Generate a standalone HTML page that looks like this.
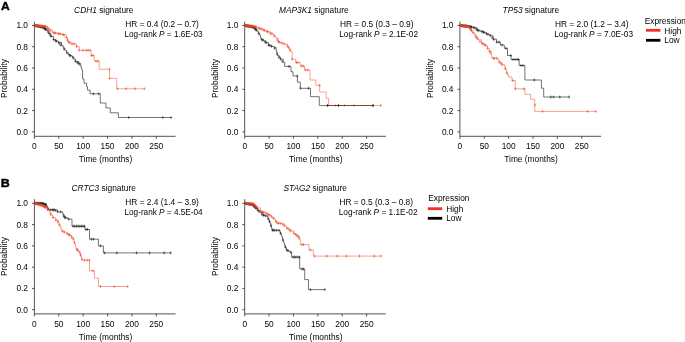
<!DOCTYPE html>
<html><head><meta charset="utf-8"><title>Figure</title>
<style>html,body{margin:0;padding:0;background:#fff}svg{display:block}</style></head>
<body>
<svg width="685" height="342" viewBox="0 0 685 342" font-family="'Liberation Sans', Arial, sans-serif" font-size="8.35" fill="#050505">
<rect width="685" height="342" fill="#fff"/>
<text transform="translate(0.9 9.7) scale(1.04 1)" font-size="11.6" font-weight="bold" fill="#000" stroke="#000" stroke-width="0.4">A</text>
<text transform="translate(0.7 186.6) scale(1.08 1)" font-size="11.6" font-weight="bold" fill="#000" stroke="#000" stroke-width="0.4">B</text>
<path d="M34.40 21.60V136.30H175.60M34.40 25.45h-2.4M34.40 46.73h-2.4M34.40 68.01h-2.4M34.40 89.29h-2.4M34.40 110.57h-2.4M34.40 131.85h-2.4M34.40 136.30v2.5M58.78 136.30v2.5M83.16 136.30v2.5M107.54 136.30v2.5M131.92 136.30v2.5M156.30 136.30v2.5" stroke="#2e2726" stroke-width="0.8" fill="none"/>
<text x="28.00" y="28.45" text-anchor="end">1.0</text>
<text x="28.00" y="49.73" text-anchor="end">0.8</text>
<text x="28.00" y="71.01" text-anchor="end">0.6</text>
<text x="28.00" y="92.29" text-anchor="end">0.4</text>
<text x="28.00" y="113.57" text-anchor="end">0.2</text>
<text x="28.00" y="134.85" text-anchor="end">0.0</text>
<text x="34.40" y="149.10" text-anchor="middle">0</text>
<text x="58.78" y="149.10" text-anchor="middle">50</text>
<text x="83.16" y="149.10" text-anchor="middle">100</text>
<text x="107.54" y="149.10" text-anchor="middle">150</text>
<text x="131.92" y="149.10" text-anchor="middle">200</text>
<text x="156.30" y="149.10" text-anchor="middle">250</text>
<text x="105.50" y="161.70" text-anchor="middle">Time (months)</text>
<text transform="translate(7.20 78.60) rotate(-90)" text-anchor="middle">Probability</text>
<text x="103.80" y="12.70" text-anchor="middle"><tspan font-style="italic">CDH1</tspan> signature</text>
<text x="125.30" y="27.30">HR = 0.4 (0.2 – 0.7)</text>
<text x="124.50" y="37.00" font-size="8.2">Log-rank <tspan font-style="italic">P</tspan> = 1.6E-03</text>
<path d="M34.40 25.40H36.55V25.85H38.70V26.30H40.85V26.75H43.00V27.20H45.00V28.85H47.00V30.50H49.00V33.45H51.00V36.40H53.70V39.70H56.00V41.05H58.30V42.40H61.60V45.70H63.25V48.00H64.90V50.30H66.55V52.40H68.20V54.50H70.15V55.65H72.10V56.80H73.75V59.10H75.40V61.40H78.70V63.40H80.50V65.70H81.20V68.13H81.90V70.57H82.60V73.00H82.60V79.00H84.00V83.20H86.60V86.80H87.50V90.10H90.10V93.80H100.30V103.00H105.90V107.90H110.30V112.80H118.40V117.50H171.10" stroke="#1a1718" stroke-width="0.6" fill="none" stroke-linejoin="miter"/>
<path d="M35.00 24.03v3.00M33.95 25.53h2.10M35.55 24.14v3.00M34.50 25.64h2.10M36.10 24.26v3.00M35.05 25.76h2.10M36.65 24.37v3.00M35.60 25.87h2.10M37.20 24.49v3.00M36.15 25.99h2.10M37.75 24.60v3.00M36.70 26.10h2.10M38.30 24.72v3.00M37.25 26.22h2.10M38.85 24.83v3.00M37.80 26.33h2.10M39.40 24.95v3.00M38.35 26.45h2.10M39.95 25.06v3.00M38.90 26.56h2.10M40.50 25.18v3.00M39.45 26.68h2.10M41.05 25.29v3.00M40.00 26.79h2.10M41.60 25.41v3.00M40.55 26.91h2.10M42.15 25.52v3.00M41.10 27.02h2.10M42.70 25.64v3.00M41.65 27.14h2.10M43.25 25.91v3.00M42.20 27.41h2.10M43.80 26.36v3.00M42.75 27.86h2.10M44.35 26.81v3.00M43.30 28.31h2.10M44.90 27.27v3.00M43.85 28.77h2.10M45.45 27.72v3.00M44.40 29.22h2.10M46.00 28.18v3.00M44.95 29.68h2.10M47.90 30.33v3.00M46.85 31.83h2.10M48.90 31.80v3.00M47.85 33.30h2.10M50.10 33.57v3.00M49.05 35.07h2.10M51.10 35.02v3.00M50.05 36.52h2.10M53.50 37.96v3.00M52.45 39.46h2.10M55.40 39.20v3.00M54.35 40.70h2.10M56.40 39.78v3.00M55.35 41.28h2.10M58.80 41.40v3.00M57.75 42.90h2.10M59.80 42.40v3.00M58.75 43.90h2.10M61.00 43.60v3.00M59.95 45.10h2.10M64.00 47.55v3.00M62.95 49.05h2.10M67.00 51.47v3.00M65.95 52.97h2.10M69.40 53.71v3.00M68.35 55.21h2.10M70.40 54.30v3.00M69.35 55.80h2.10M72.80 56.28v3.00M71.75 57.78h2.10M75.20 59.62v3.00M74.15 61.12h2.10M77.10 60.93v3.00M76.05 62.43h2.10M78.10 61.54v3.00M77.05 63.04h2.10M79.30 62.67v3.00M78.25 64.17h2.10M93.40 92.30v3.00M92.35 93.80h2.10M98.70 92.30v3.00M97.65 93.80h2.10M128.70 116.00v3.00M127.65 117.50h2.10M162.80 116.00v3.00M161.75 117.50h2.10M171.10 116.00v3.00M170.05 117.50h2.10" stroke="#1a1718" stroke-width="0.5" fill="none"/>
<path d="M34.40 25.40H36.68V25.64H38.96V25.88H41.24V26.12H43.52V26.36H45.80V26.60H47.75V28.25H49.70V29.90H52.40V32.50H55.02V33.00H57.65V33.50H60.27V34.00H62.90V34.50H66.20V37.10H67.20V39.40H68.20V41.70H70.80V43.90H76.60V46.60H79.20V50.30H91.10V55.50H94.10V61.10H99.20V69.20H109.50V78.40H116.80V88.80H144.40" stroke="#ef4423" stroke-width="0.5" fill="none" stroke-linejoin="miter"/>
<path d="M35.00 23.96v3.00M33.95 25.46h2.10M35.55 24.02v3.00M34.50 25.52h2.10M36.10 24.08v3.00M35.05 25.58h2.10M36.65 24.14v3.00M35.60 25.64h2.10M37.20 24.19v3.00M36.15 25.69h2.10M37.75 24.25v3.00M36.70 25.75h2.10M38.30 24.31v3.00M37.25 25.81h2.10M38.85 24.37v3.00M37.80 25.87h2.10M39.40 24.43v3.00M38.35 25.93h2.10M39.95 24.48v3.00M38.90 25.98h2.10M40.50 24.54v3.00M39.45 26.04h2.10M41.05 24.60v3.00M40.00 26.10h2.10M41.60 24.66v3.00M40.55 26.16h2.10M42.15 24.72v3.00M41.10 26.22h2.10M42.70 24.77v3.00M41.65 26.27h2.10M43.25 24.83v3.00M42.20 26.33h2.10M43.80 24.89v3.00M42.75 26.39h2.10M44.35 24.95v3.00M43.30 26.45h2.10M44.90 25.01v3.00M43.85 26.51h2.10M45.45 25.06v3.00M44.40 26.56h2.10M46.00 25.27v3.00M44.95 26.77h2.10M47.50 26.54v3.00M46.45 28.04h2.10M48.70 27.55v3.00M47.65 29.05h2.10M50.60 29.27v3.00M49.55 30.77h2.10M53.60 31.23v3.00M52.55 32.73h2.10M54.60 31.42v3.00M53.55 32.92h2.10M55.60 31.61v3.00M54.55 33.11h2.10M58.00 32.07v3.00M56.95 33.57h2.10M59.00 32.26v3.00M57.95 33.76h2.10M60.50 32.54v3.00M59.45 34.04h2.10M62.90 33.00v3.00M61.85 34.50h2.10M63.90 33.79v3.00M62.85 35.29h2.10M66.30 35.83v3.00M65.25 37.33h2.10M67.50 38.59v3.00M66.45 40.09h2.10M68.50 40.45v3.00M67.45 41.95h2.10M69.50 41.30v3.00M68.45 42.80h2.10M72.00 42.40v3.00M70.95 43.90h2.10M74.00 42.40v3.00M72.95 43.90h2.10M76.60 45.10v3.00M75.55 46.60h2.10M79.20 48.80v3.00M78.15 50.30h2.10M83.00 48.80v3.00M81.95 50.30h2.10M86.00 48.80v3.00M84.95 50.30h2.10M88.00 48.80v3.00M86.95 50.30h2.10M90.00 48.80v3.00M88.95 50.30h2.10M91.50 54.00v3.00M90.45 55.50h2.10M93.00 54.00v3.00M91.95 55.50h2.10M96.00 59.60v3.00M94.95 61.10h2.10M98.00 59.60v3.00M96.95 61.10h2.10M109.40 67.70v3.00M108.35 69.20h2.10M109.55 76.90v3.00M108.50 78.40h2.10M117.40 87.30v3.00M116.35 88.80h2.10M126.00 87.30v3.00M124.95 88.80h2.10M135.00 87.30v3.00M133.95 88.80h2.10M144.40 87.30v3.00M143.35 88.80h2.10" stroke="#ef4423" stroke-width="0.5" fill="none"/>
<path d="M244.70 21.60V136.30H385.90M244.70 25.45h-2.4M244.70 46.73h-2.4M244.70 68.01h-2.4M244.70 89.29h-2.4M244.70 110.57h-2.4M244.70 131.85h-2.4M244.70 136.30v2.5M269.08 136.30v2.5M293.46 136.30v2.5M317.84 136.30v2.5M342.22 136.30v2.5M366.60 136.30v2.5" stroke="#2e2726" stroke-width="0.8" fill="none"/>
<text x="238.30" y="28.45" text-anchor="end">1.0</text>
<text x="238.30" y="49.73" text-anchor="end">0.8</text>
<text x="238.30" y="71.01" text-anchor="end">0.6</text>
<text x="238.30" y="92.29" text-anchor="end">0.4</text>
<text x="238.30" y="113.57" text-anchor="end">0.2</text>
<text x="238.30" y="134.85" text-anchor="end">0.0</text>
<text x="244.70" y="149.10" text-anchor="middle">0</text>
<text x="269.08" y="149.10" text-anchor="middle">50</text>
<text x="293.46" y="149.10" text-anchor="middle">100</text>
<text x="317.84" y="149.10" text-anchor="middle">150</text>
<text x="342.22" y="149.10" text-anchor="middle">200</text>
<text x="366.60" y="149.10" text-anchor="middle">250</text>
<text x="315.80" y="161.70" text-anchor="middle">Time (months)</text>
<text transform="translate(217.50 78.60) rotate(-90)" text-anchor="middle">Probability</text>
<text x="313.80" y="12.70" text-anchor="middle"><tspan font-style="italic">MAP3K1</tspan> signature</text>
<text x="340.00" y="27.30">HR = 0.5 (0.3 – 0.9)</text>
<text x="339.20" y="37.00" font-size="8.28">Log-rank <tspan font-style="italic">P</tspan> = 2.1E-02</text>
<path d="M244.70 25.40H246.97V25.85H249.25V26.30H251.53V26.75H253.80V27.20H255.45V29.20H257.10V31.20H258.40V33.15H259.70V35.10H260.35V37.10H261.00V39.10H263.35V40.75H265.70V42.40H268.30V45.00H271.25V46.30H274.20V47.60H276.20V50.90H276.80V53.15H277.40V55.40H278.95V57.30H280.50V59.20H283.20V62.50H284.70V66.40H291.00V71.70H293.00V76.00H297.40V82.10H300.30V88.30H310.50V96.70H319.30V105.50H373.00" stroke="#1a1718" stroke-width="0.6" fill="none" stroke-linejoin="miter"/>
<path d="M245.30 24.02v3.00M244.25 25.52h2.10M245.85 24.13v3.00M244.80 25.63h2.10M246.40 24.24v3.00M245.35 25.74h2.10M246.95 24.35v3.00M245.90 25.85h2.10M247.50 24.45v3.00M246.45 25.95h2.10M248.05 24.56v3.00M247.00 26.06h2.10M248.60 24.67v3.00M247.55 26.17h2.10M249.15 24.78v3.00M248.10 26.28h2.10M249.70 24.89v3.00M248.65 26.39h2.10M250.25 25.00v3.00M249.20 26.50h2.10M250.80 25.11v3.00M249.75 26.61h2.10M251.35 25.22v3.00M250.30 26.72h2.10M251.90 25.32v3.00M250.85 26.82h2.10M252.45 25.43v3.00M251.40 26.93h2.10M253.00 25.54v3.00M251.95 27.04h2.10M253.55 25.65v3.00M252.50 27.15h2.10M254.10 26.06v3.00M253.05 27.56h2.10M254.65 26.73v3.00M253.60 28.23h2.10M255.20 27.40v3.00M254.15 28.90h2.10M255.75 28.06v3.00M254.70 29.56h2.10M256.30 28.73v3.00M255.25 30.23h2.10M258.70 32.10v3.00M257.65 33.60h2.10M261.70 38.09v3.00M260.65 39.59h2.10M262.70 38.79v3.00M261.65 40.29h2.10M265.10 40.48v3.00M264.05 41.98h2.10M266.10 41.30v3.00M265.05 42.80h2.10M268.50 43.59v3.00M267.45 45.09h2.10M269.70 44.12v3.00M268.65 45.62h2.10M271.60 44.95v3.00M270.55 46.45h2.10M274.60 46.76v3.00M273.55 48.26h2.10M277.00 52.40v3.00M275.95 53.90h2.10M278.90 55.74v3.00M277.85 57.24h2.10M280.40 57.58v3.00M279.35 59.08h2.10M282.30 59.90v3.00M281.25 61.40h2.10M289.00 64.90v3.00M287.95 66.40h2.10M297.30 74.50v3.00M296.25 76.00h2.10M300.40 86.80v3.00M299.35 88.30h2.10M308.50 86.80v3.00M307.45 88.30h2.10M327.60 104.00v3.00M326.55 105.50h2.10M338.50 104.00v3.00M337.45 105.50h2.10M373.00 104.00v3.00M371.95 105.50h2.10" stroke="#1a1718" stroke-width="0.5" fill="none"/>
<path d="M244.70 25.40H247.15V25.70H249.60V26.00H252.05V26.30H254.50V26.60H256.67V27.40H258.83V28.20H261.00V29.00H263.20V29.93H265.40V30.87H267.60V31.80H270.25V33.15H272.90V34.50H274.55V36.45H276.20V38.40H278.20V41.70H280.15V42.55H282.10V43.40H284.05V43.85H286.00V44.30H287.65V46.60H289.30V48.90H290.70V51.45H292.10V54.00H292.10V59.20H295.70V62.50H300.30V66.00H304.50V70.00H310.00V80.00H315.90V85.30H319.70V92.00H326.20V98.40H328.60V105.50H380.80" stroke="#ef4423" stroke-width="0.5" fill="none" stroke-linejoin="miter"/>
<path d="M245.30 23.97v3.00M244.25 25.47h2.10M245.85 24.04v3.00M244.80 25.54h2.10M246.40 24.11v3.00M245.35 25.61h2.10M246.95 24.18v3.00M245.90 25.68h2.10M247.50 24.24v3.00M246.45 25.74h2.10M248.05 24.31v3.00M247.00 25.81h2.10M248.60 24.38v3.00M247.55 25.88h2.10M249.15 24.44v3.00M248.10 25.94h2.10M249.70 24.51v3.00M248.65 26.01h2.10M250.25 24.58v3.00M249.20 26.08h2.10M250.80 24.65v3.00M249.75 26.15h2.10M251.35 24.71v3.00M250.30 26.21h2.10M251.90 24.78v3.00M250.85 26.28h2.10M252.45 24.85v3.00M251.40 26.35h2.10M253.00 24.92v3.00M251.95 26.42h2.10M253.55 24.98v3.00M252.50 26.48h2.10M254.10 25.05v3.00M253.05 26.55h2.10M254.65 25.16v3.00M253.60 26.66h2.10M255.20 25.36v3.00M254.15 26.86h2.10M255.75 25.56v3.00M254.70 27.06h2.10M256.30 25.76v3.00M255.25 27.26h2.10M258.70 26.65v3.00M257.65 28.15h2.10M259.90 27.09v3.00M258.85 28.59h2.10M261.40 27.67v3.00M260.35 29.17h2.10M263.30 28.48v3.00M262.25 29.98h2.10M264.50 28.98v3.00M263.45 30.48h2.10M266.90 30.00v3.00M265.85 31.50h2.10M267.90 30.45v3.00M266.85 31.95h2.10M270.30 31.68v3.00M269.25 33.18h2.10M271.80 32.44v3.00M270.75 33.94h2.10M274.20 34.54v3.00M273.15 36.04h2.10M277.20 38.55v3.00M276.15 40.05h2.10M278.40 40.29v3.00M277.35 41.79h2.10M279.40 40.72v3.00M278.35 42.22h2.10M281.80 41.77v3.00M280.75 43.27h2.10M284.20 42.38v3.00M283.15 43.88h2.10M287.20 44.47v3.00M286.15 45.97h2.10M288.40 46.15v3.00M287.35 47.65h2.10M289.90 48.49v3.00M288.85 49.99h2.10M292.10 57.70v3.00M291.05 59.20h2.10M296.50 61.00v3.00M295.45 62.50h2.10M298.00 61.00v3.00M296.95 62.50h2.10M301.50 64.50v3.00M300.45 66.00h2.10M303.20 64.50v3.00M302.15 66.00h2.10M305.60 68.50v3.00M304.55 70.00h2.10M307.80 68.50v3.00M306.75 70.00h2.10M319.60 83.80v3.00M318.55 85.30h2.10M335.60 104.00v3.00M334.55 105.50h2.10M344.60 104.00v3.00M343.55 105.50h2.10M353.90 104.00v3.00M352.85 105.50h2.10M380.80 104.00v3.00M379.75 105.50h2.10" stroke="#ef4423" stroke-width="0.5" fill="none"/>
<path d="M328.6 105.5H373" stroke="#1a1718" stroke-width="0.5" fill="none" opacity="0.7"/>
<path d="M327.6 104v3M338.5 104v3M373 104v3M372 105.5h2" stroke="#1a1718" stroke-width="0.5" fill="none"/>
<path d="M459.90 21.60V136.30H601.10M459.90 25.45h-2.4M459.90 46.73h-2.4M459.90 68.01h-2.4M459.90 89.29h-2.4M459.90 110.57h-2.4M459.90 131.85h-2.4M459.90 136.30v2.5M484.28 136.30v2.5M508.66 136.30v2.5M533.04 136.30v2.5M557.42 136.30v2.5M581.80 136.30v2.5" stroke="#2e2726" stroke-width="0.8" fill="none"/>
<text x="453.50" y="28.45" text-anchor="end">1.0</text>
<text x="453.50" y="49.73" text-anchor="end">0.8</text>
<text x="453.50" y="71.01" text-anchor="end">0.6</text>
<text x="453.50" y="92.29" text-anchor="end">0.4</text>
<text x="453.50" y="113.57" text-anchor="end">0.2</text>
<text x="453.50" y="134.85" text-anchor="end">0.0</text>
<text x="459.90" y="149.10" text-anchor="middle">0</text>
<text x="484.28" y="149.10" text-anchor="middle">50</text>
<text x="508.66" y="149.10" text-anchor="middle">100</text>
<text x="533.04" y="149.10" text-anchor="middle">150</text>
<text x="557.42" y="149.10" text-anchor="middle">200</text>
<text x="581.80" y="149.10" text-anchor="middle">250</text>
<text x="531.00" y="161.70" text-anchor="middle">Time (months)</text>
<text transform="translate(432.70 78.60) rotate(-90)" text-anchor="middle">Probability</text>
<text x="530.90" y="12.70" text-anchor="middle"><tspan font-style="italic">TP53</tspan> signature</text>
<text x="555.00" y="27.30">HR = 2.0 (1.2 – 3.4)</text>
<text x="554.20" y="37.00" font-size="8.28">Log-rank <tspan font-style="italic">P</tspan> = 7.0E-03</text>
<path d="M459.90 25.40H462.30V25.70H464.70V26.00H467.10V26.30H469.50V26.60H472.10V27.25H474.70V27.90H477.40V30.30H480.00V31.05H482.60V31.80H484.60V32.80H486.60V33.80H488.55V34.80H490.50V35.80H493.20V39.10H496.40V42.10H500.40V45.00H504.30V48.30H507.50V55.50H511.00V59.50H519.20V65.50H524.90V80.00H541.40V88.20H543.70V97.00H569.20" stroke="#1a1718" stroke-width="0.6" fill="none" stroke-linejoin="miter"/>
<path d="M460.50 23.98v3.00M459.45 25.48h2.10M461.05 24.04v3.00M460.00 25.54h2.10M461.60 24.11v3.00M460.55 25.61h2.10M462.15 24.18v3.00M461.10 25.68h2.10M462.70 24.25v3.00M461.65 25.75h2.10M463.25 24.32v3.00M462.20 25.82h2.10M463.80 24.39v3.00M462.75 25.89h2.10M464.35 24.46v3.00M463.30 25.96h2.10M464.90 24.52v3.00M463.85 26.02h2.10M465.45 24.59v3.00M464.40 26.09h2.10M466.00 24.66v3.00M464.95 26.16h2.10M466.55 24.73v3.00M465.50 26.23h2.10M467.10 24.80v3.00M466.05 26.30h2.10M467.65 24.87v3.00M466.60 26.37h2.10M468.20 24.94v3.00M467.15 26.44h2.10M468.75 25.01v3.00M467.70 26.51h2.10M469.30 25.08v3.00M468.25 26.58h2.10M469.85 25.19v3.00M468.80 26.69h2.10M470.40 25.32v3.00M469.35 26.82h2.10M470.95 25.46v3.00M469.90 26.96h2.10M471.50 25.60v3.00M470.45 27.10h2.10M473.40 26.07v3.00M472.35 27.57h2.10M474.90 26.58v3.00M473.85 28.08h2.10M476.40 27.91v3.00M475.35 29.41h2.10M477.60 28.86v3.00M476.55 30.36h2.10M478.80 29.20v3.00M477.75 30.70h2.10M481.80 30.07v3.00M480.75 31.57h2.10M483.00 30.50v3.00M481.95 32.00h2.10M484.00 31.00v3.00M482.95 32.50h2.10M486.40 32.20v3.00M485.35 33.70h2.10M487.90 32.97v3.00M486.85 34.47h2.10M490.30 34.20v3.00M489.25 35.70h2.10M492.20 36.38v3.00M491.15 37.88h2.10M493.70 38.07v3.00M492.65 39.57h2.10M496.70 40.60v3.00M495.65 42.10h2.10M499.00 40.60v3.00M497.95 42.10h2.10M502.00 43.50v3.00M500.95 45.00h2.10M506.00 46.80v3.00M504.95 48.30h2.10M510.90 54.00v3.00M509.85 55.50h2.10M513.00 58.00v3.00M511.95 59.50h2.10M515.00 58.00v3.00M513.95 59.50h2.10M517.00 58.00v3.00M515.95 59.50h2.10M518.50 58.00v3.00M517.45 59.50h2.10M521.00 64.00v3.00M519.95 65.50h2.10M523.00 64.00v3.00M521.95 65.50h2.10M534.30 78.50v3.00M533.25 80.00h2.10M550.80 95.50v3.00M549.75 97.00h2.10M553.50 95.50v3.00M552.45 97.00h2.10M559.80 95.50v3.00M558.75 97.00h2.10M569.20 95.50v3.00M568.15 97.00h2.10" stroke="#1a1718" stroke-width="0.5" fill="none"/>
<path d="M459.90 25.40H462.12V25.70H464.35V26.00H466.57V26.30H468.80V26.60H470.10V28.55H471.40V30.50H473.05V32.80H474.70V35.10H476.35V37.40H478.00V39.70H481.30V43.00H483.60V44.35H485.90V45.70H487.55V48.30H489.20V50.90H491.20V54.20H491.50V56.20H491.80V58.20H494.30V58.25H496.80V58.30H498.15V60.40H499.50V62.50H502.10V64.80H504.70V67.10H505.70V70.05H506.70V73.00H507.70V75.00H508.70V77.00H512.00V80.50H515.20V88.80H524.90V94.30H530.60V99.30H534.80V111.40H595.70" stroke="#ef4423" stroke-width="0.5" fill="none" stroke-linejoin="miter"/>
<path d="M460.50 23.98v3.00M459.45 25.48h2.10M461.05 24.06v3.00M460.00 25.56h2.10M461.60 24.13v3.00M460.55 25.63h2.10M462.15 24.20v3.00M461.10 25.70h2.10M462.70 24.28v3.00M461.65 25.78h2.10M463.25 24.35v3.00M462.20 25.85h2.10M463.80 24.43v3.00M462.75 25.93h2.10M464.35 24.50v3.00M463.30 26.00h2.10M464.90 24.57v3.00M463.85 26.07h2.10M465.45 24.65v3.00M464.40 26.15h2.10M466.00 24.72v3.00M464.95 26.22h2.10M466.55 24.80v3.00M465.50 26.30h2.10M467.10 24.87v3.00M466.05 26.37h2.10M467.65 24.94v3.00M466.60 26.44h2.10M468.20 25.02v3.00M467.15 26.52h2.10M468.75 25.09v3.00M467.70 26.59h2.10M469.30 25.85v3.00M468.25 27.35h2.10M469.85 26.68v3.00M468.80 28.18h2.10M470.40 27.50v3.00M469.35 29.00h2.10M470.95 28.33v3.00M469.90 29.83h2.10M471.50 29.14v3.00M470.45 30.64h2.10M473.00 31.23v3.00M471.95 32.73h2.10M475.40 34.58v3.00M474.35 36.08h2.10M476.40 35.97v3.00M475.35 37.47h2.10M477.40 37.36v3.00M476.35 38.86h2.10M479.80 40.00v3.00M478.75 41.50h2.10M481.70 41.73v3.00M480.65 43.23h2.10M482.90 42.44v3.00M481.85 43.94h2.10M484.40 43.32v3.00M483.35 44.82h2.10M485.60 44.02v3.00M484.55 45.52h2.10M487.50 46.72v3.00M486.45 48.22h2.10M489.40 49.73v3.00M488.35 51.23h2.10M490.40 51.38v3.00M489.35 52.88h2.10M493.40 56.73v3.00M492.35 58.23h2.10M494.40 56.75v3.00M493.35 58.25h2.10M496.80 56.80v3.00M495.75 58.30h2.10M499.20 60.53v3.00M498.15 62.03h2.10M500.70 62.06v3.00M499.65 63.56h2.10M502.20 63.39v3.00M501.15 64.89h2.10M505.20 67.07v3.00M504.15 68.57h2.10M506.70 71.50v3.00M505.65 73.00h2.10M512.60 79.00v3.00M511.55 80.50h2.10M515.30 87.30v3.00M514.25 88.80h2.10M524.00 87.30v3.00M522.95 88.80h2.10M542.50 109.90v3.00M541.45 111.40h2.10M587.50 109.90v3.00M586.45 111.40h2.10M595.70 109.90v3.00M594.65 111.40h2.10" stroke="#ef4423" stroke-width="0.5" fill="none"/>
<path d="M534.8 103.6v3M533.8 105.1h2" stroke="#ef4423" stroke-width="0.5" fill="none"/>
<path d="M34.40 199.20V313.90H175.60M34.40 203.30h-2.4M34.40 224.58h-2.4M34.40 245.86h-2.4M34.40 267.14h-2.4M34.40 288.42h-2.4M34.40 309.70h-2.4M34.40 313.90v2.5M58.78 313.90v2.5M83.16 313.90v2.5M107.54 313.90v2.5M131.92 313.90v2.5M156.30 313.90v2.5" stroke="#2e2726" stroke-width="0.8" fill="none"/>
<text x="28.00" y="206.30" text-anchor="end">1.0</text>
<text x="28.00" y="227.58" text-anchor="end">0.8</text>
<text x="28.00" y="248.86" text-anchor="end">0.6</text>
<text x="28.00" y="270.14" text-anchor="end">0.4</text>
<text x="28.00" y="291.42" text-anchor="end">0.2</text>
<text x="28.00" y="312.70" text-anchor="end">0.0</text>
<text x="34.40" y="327.10" text-anchor="middle">0</text>
<text x="58.78" y="327.10" text-anchor="middle">50</text>
<text x="83.16" y="327.10" text-anchor="middle">100</text>
<text x="107.54" y="327.10" text-anchor="middle">150</text>
<text x="131.92" y="327.10" text-anchor="middle">200</text>
<text x="156.30" y="327.10" text-anchor="middle">250</text>
<text x="105.50" y="339.70" text-anchor="middle">Time (months)</text>
<text transform="translate(7.20 256.60) rotate(-90)" text-anchor="middle">Probability</text>
<text x="103.70" y="190.70" text-anchor="middle"><tspan font-style="italic">CRTC3</tspan> signature</text>
<text x="125.30" y="205.30">HR = 2.4 (1.4 – 3.9)</text>
<text x="124.50" y="215.00" font-size="8.2">Log-rank <tspan font-style="italic">P</tspan> = 4.5E-04</text>
<path d="M34.40 203.30H36.60V203.35H38.80V203.40H41.00V203.45H43.20V203.50H46.40V205.90H47.40V207.85H48.40V209.80H50.60V209.83H52.80V209.87H55.00V209.90H57.60V211.80H59.60V211.90H61.60V212.00H62.90V214.55H64.20V217.10H66.20V218.10H68.20V219.10H71.40V219.30H72.00V226.20H85.00V229.50H89.50V239.20H98.40V245.90H103.40V252.90H170.70" stroke="#1a1718" stroke-width="0.6" fill="none" stroke-linejoin="miter"/>
<path d="M35.00 201.81v3.00M33.95 203.31h2.10M35.55 201.83v3.00M34.50 203.33h2.10M36.10 201.84v3.00M35.05 203.34h2.10M36.65 201.85v3.00M35.60 203.35h2.10M37.20 201.86v3.00M36.15 203.36h2.10M37.75 201.88v3.00M36.70 203.38h2.10M38.30 201.89v3.00M37.25 203.39h2.10M38.85 201.90v3.00M37.80 203.40h2.10M39.40 201.91v3.00M38.35 203.41h2.10M39.95 201.93v3.00M38.90 203.43h2.10M40.50 201.94v3.00M39.45 203.44h2.10M41.05 201.95v3.00M40.00 203.45h2.10M41.60 201.96v3.00M40.55 203.46h2.10M42.15 201.98v3.00M41.10 203.48h2.10M42.70 201.99v3.00M41.65 203.49h2.10M43.25 202.04v3.00M42.20 203.54h2.10M43.80 202.45v3.00M42.75 203.95h2.10M44.35 202.86v3.00M43.30 204.36h2.10M44.90 203.28v3.00M43.85 204.78h2.10M45.45 203.69v3.00M44.40 205.19h2.10M46.00 204.10v3.00M44.95 205.60h2.10M47.90 207.33v3.00M46.85 208.83h2.10M50.30 208.33v3.00M49.25 209.83h2.10M52.20 208.36v3.00M51.15 209.86h2.10M53.20 208.37v3.00M52.15 209.87h2.10M54.20 208.39v3.00M53.15 209.89h2.10M55.70 208.91v3.00M54.65 210.41h2.10M57.60 210.30v3.00M56.55 211.80h2.10M60.60 210.45v3.00M59.55 211.95h2.10M63.60 214.42v3.00M62.55 215.92h2.10M64.60 215.80v3.00M63.55 217.30h2.10M65.60 216.30v3.00M64.55 217.80h2.10M68.60 217.62v3.00M67.55 219.12h2.10M73.20 224.70v3.00M72.15 226.20h2.10M74.80 224.70v3.00M73.75 226.20h2.10M76.50 224.70v3.00M75.45 226.20h2.10M78.10 224.70v3.00M77.05 226.20h2.10M79.80 224.70v3.00M78.75 226.20h2.10M81.40 224.70v3.00M80.35 226.20h2.10M83.00 224.70v3.00M81.95 226.20h2.10M84.40 224.70v3.00M83.35 226.20h2.10M86.00 228.00v3.00M84.95 229.50h2.10M87.50 228.00v3.00M86.45 229.50h2.10M91.50 237.70v3.00M90.45 239.20h2.10M93.50 237.70v3.00M92.45 239.20h2.10M100.50 244.40v3.00M99.45 245.90h2.10M104.60 251.40v3.00M103.55 252.90h2.10M116.80 251.40v3.00M115.75 252.90h2.10M136.50 251.40v3.00M135.45 252.90h2.10M149.50 251.40v3.00M148.45 252.90h2.10M164.20 251.40v3.00M163.15 252.90h2.10M170.70 251.40v3.00M169.65 252.90h2.10" stroke="#1a1718" stroke-width="0.5" fill="none"/>
<path d="M34.40 203.30H36.87V203.93H39.33V204.57H41.80V205.20H44.10V206.55H46.40V207.90H48.05V210.50H49.70V213.10H51.35V215.40H53.00V217.70H55.65V220.00H58.30V222.30H59.12V224.45H59.95V226.60H60.77V228.75H61.60V230.90H63.90V232.05H66.20V233.20H68.15V234.35H70.10V235.50H71.75V237.50H73.40V239.50H74.08V241.80H74.75V244.10H75.42V246.40H76.10V248.70H78.05V251.00H80.00V253.30H80.70V255.60H81.40V257.90H82.10V260.20H89.50V270.80H94.50V278.20H98.50V286.50H127.70" stroke="#ef4423" stroke-width="0.5" fill="none" stroke-linejoin="miter"/>
<path d="M35.00 201.95v3.00M33.95 203.45h2.10M35.55 202.10v3.00M34.50 203.60h2.10M36.10 202.24v3.00M35.05 203.74h2.10M36.65 202.38v3.00M35.60 203.88h2.10M37.20 202.52v3.00M36.15 204.02h2.10M37.75 202.66v3.00M36.70 204.16h2.10M38.30 202.80v3.00M37.25 204.30h2.10M38.85 202.94v3.00M37.80 204.44h2.10M39.40 203.08v3.00M38.35 204.58h2.10M39.95 203.22v3.00M38.90 204.72h2.10M40.50 203.37v3.00M39.45 204.87h2.10M41.05 203.51v3.00M40.00 205.01h2.10M41.60 203.65v3.00M40.55 205.15h2.10M42.15 203.91v3.00M41.10 205.41h2.10M42.70 204.23v3.00M41.65 205.73h2.10M43.25 204.55v3.00M42.20 206.05h2.10M43.80 204.87v3.00M42.75 206.37h2.10M44.35 205.20v3.00M43.30 206.70h2.10M44.90 205.52v3.00M43.85 207.02h2.10M45.45 205.84v3.00M44.40 207.34h2.10M46.00 206.17v3.00M44.95 207.67h2.10M47.50 208.13v3.00M46.45 209.63h2.10M50.50 212.72v3.00M49.45 214.22h2.10M52.90 216.06v3.00M51.85 217.56h2.10M55.90 218.72v3.00M54.85 220.22h2.10M57.80 220.37v3.00M56.75 221.87h2.10M59.30 223.41v3.00M58.25 224.91h2.10M62.30 229.75v3.00M61.25 231.25h2.10M64.20 230.70v3.00M63.15 232.20h2.10M67.20 232.29v3.00M66.15 233.79h2.10M68.70 233.17v3.00M67.65 234.67h2.10M69.70 233.76v3.00M68.65 235.26h2.10M71.60 235.82v3.00M70.55 237.32h2.10M73.10 237.64v3.00M72.05 239.14h2.10M74.30 241.07v3.00M73.25 242.57h2.10M76.70 247.91v3.00M75.65 249.41h2.10M77.70 249.09v3.00M76.65 250.59h2.10M79.60 251.33v3.00M78.55 252.83h2.10M80.60 253.77v3.00M79.55 255.27h2.10M81.80 257.71v3.00M80.75 259.21h2.10M84.60 258.70v3.00M83.55 260.20h2.10M87.20 258.70v3.00M86.15 260.20h2.10M89.40 258.70v3.00M88.35 260.20h2.10M93.00 269.30v3.00M91.95 270.80h2.10M100.50 285.00v3.00M99.45 286.50h2.10M114.20 285.00v3.00M113.15 286.50h2.10M127.70 285.00v3.00M126.65 286.50h2.10" stroke="#ef4423" stroke-width="0.5" fill="none"/>
<path d="M244.70 199.20V313.90H385.90M244.70 203.30h-2.4M244.70 224.58h-2.4M244.70 245.86h-2.4M244.70 267.14h-2.4M244.70 288.42h-2.4M244.70 309.70h-2.4M244.70 313.90v2.5M269.08 313.90v2.5M293.46 313.90v2.5M317.84 313.90v2.5M342.22 313.90v2.5M366.60 313.90v2.5" stroke="#2e2726" stroke-width="0.8" fill="none"/>
<text x="238.30" y="206.30" text-anchor="end">1.0</text>
<text x="238.30" y="227.58" text-anchor="end">0.8</text>
<text x="238.30" y="248.86" text-anchor="end">0.6</text>
<text x="238.30" y="270.14" text-anchor="end">0.4</text>
<text x="238.30" y="291.42" text-anchor="end">0.2</text>
<text x="238.30" y="312.70" text-anchor="end">0.0</text>
<text x="244.70" y="327.10" text-anchor="middle">0</text>
<text x="269.08" y="327.10" text-anchor="middle">50</text>
<text x="293.46" y="327.10" text-anchor="middle">100</text>
<text x="317.84" y="327.10" text-anchor="middle">150</text>
<text x="342.22" y="327.10" text-anchor="middle">200</text>
<text x="366.60" y="327.10" text-anchor="middle">250</text>
<text x="315.80" y="339.70" text-anchor="middle">Time (months)</text>
<text transform="translate(217.50 256.60) rotate(-90)" text-anchor="middle">Probability</text>
<text x="315.20" y="190.70" text-anchor="middle"><tspan font-style="italic">STAG2</tspan> signature</text>
<text x="339.50" y="205.30">HR = 0.5 (0.3 – 0.8)</text>
<text x="338.70" y="215.00" font-size="8.28">Log-rank <tspan font-style="italic">P</tspan> = 1.1E-02</text>
<path d="M244.70 203.30H247.30V203.73H249.90V204.17H252.50V204.60H254.45V206.55H256.40V208.50H258.05V210.50H259.70V212.50H263.00V215.10H265.00V215.75H267.00V216.40H267.95V218.40H268.90V220.40H269.90V223.00H270.90V225.60H271.45V227.90H272.00V230.20H274.40V230.27H276.80V230.33H279.20V230.40H280.07V232.53H280.93V234.67H281.80V236.80H282.48V238.95H283.15V241.10H283.82V243.25H284.50V245.40H285.45V247.60H286.40V249.80H288.20V251.05H290.00V252.30H291.60V257.10H299.70V269.00H304.70V279.60H308.50V289.60H324.80" stroke="#1a1718" stroke-width="0.6" fill="none" stroke-linejoin="miter"/>
<path d="M245.30 201.90v3.00M244.25 203.40h2.10M245.85 201.99v3.00M244.80 203.49h2.10M246.40 202.08v3.00M245.35 203.58h2.10M246.95 202.18v3.00M245.90 203.68h2.10M247.50 202.27v3.00M246.45 203.77h2.10M248.05 202.36v3.00M247.00 203.86h2.10M248.60 202.45v3.00M247.55 203.95h2.10M249.15 202.54v3.00M248.10 204.04h2.10M249.70 202.63v3.00M248.65 204.13h2.10M250.25 202.72v3.00M249.20 204.22h2.10M250.80 202.82v3.00M249.75 204.32h2.10M251.35 202.91v3.00M250.30 204.41h2.10M251.90 203.00v3.00M250.85 204.50h2.10M252.45 203.09v3.00M251.40 204.59h2.10M253.00 203.60v3.00M251.95 205.10h2.10M253.55 204.15v3.00M252.50 205.65h2.10M254.10 204.70v3.00M253.05 206.20h2.10M254.65 205.25v3.00M253.60 206.75h2.10M255.20 205.80v3.00M254.15 207.30h2.10M255.75 206.35v3.00M254.70 207.85h2.10M256.30 206.90v3.00M255.25 208.40h2.10M257.50 208.33v3.00M256.45 209.83h2.10M258.70 209.79v3.00M257.65 211.29h2.10M261.70 212.58v3.00M260.65 214.08h2.10M262.90 213.52v3.00M261.85 215.02h2.10M263.90 213.89v3.00M262.85 215.39h2.10M265.80 214.51v3.00M264.75 216.01h2.10M268.20 217.43v3.00M267.15 218.93h2.10M269.40 220.20v3.00M268.35 221.70h2.10M270.90 224.10v3.00M269.85 225.60h2.10M272.40 228.71v3.00M271.35 230.21h2.10M273.40 228.74v3.00M272.35 230.24h2.10M274.60 228.77v3.00M273.55 230.27h2.10M276.50 228.82v3.00M275.45 230.32h2.10M278.90 228.89v3.00M277.85 230.39h2.10M280.40 231.85v3.00M279.35 233.35h2.10M282.80 238.49v3.00M281.75 239.99h2.10M285.20 245.52v3.00M284.15 247.02h2.10M286.70 248.51v3.00M285.65 250.01h2.10M287.90 249.34v3.00M286.85 250.84h2.10M290.90 250.80v3.00M289.85 252.30h2.10M293.00 255.60v3.00M291.95 257.10h2.10M294.50 255.60v3.00M293.45 257.10h2.10M296.00 255.60v3.00M294.95 257.10h2.10M298.00 255.60v3.00M296.95 257.10h2.10M299.60 255.60v3.00M298.55 257.10h2.10M302.00 267.50v3.00M300.95 269.00h2.10M303.50 267.50v3.00M302.45 269.00h2.10M310.40 288.10v3.00M309.35 289.60h2.10M324.80 288.10v3.00M323.75 289.60h2.10" stroke="#1a1718" stroke-width="0.5" fill="none"/>
<path d="M244.70 203.30H246.82V203.45H248.95V203.60H251.07V203.75H253.20V203.90H255.15V205.90H257.10V207.90H260.40V211.20H263.05V212.15H265.70V213.10H268.00V214.45H270.30V215.80H272.25V217.45H274.20V219.10H275.50V221.05H276.80V223.00H279.45V223.35H282.10V223.70H284.10V225.65H286.10V227.60H288.40V229.25H290.70V230.90H293.90V233.50H296.00V235.00H298.10V236.50H299.80V239.80H300.30V244.60H308.90V250.00H313.40V256.10H381.00" stroke="#ef4423" stroke-width="0.5" fill="none" stroke-linejoin="miter"/>
<path d="M245.30 201.84v3.00M244.25 203.34h2.10M245.85 201.88v3.00M244.80 203.38h2.10M246.40 201.92v3.00M245.35 203.42h2.10M246.95 201.96v3.00M245.90 203.46h2.10M247.50 202.00v3.00M246.45 203.50h2.10M248.05 202.04v3.00M247.00 203.54h2.10M248.60 202.08v3.00M247.55 203.58h2.10M249.15 202.11v3.00M248.10 203.61h2.10M249.70 202.15v3.00M248.65 203.65h2.10M250.25 202.19v3.00M249.20 203.69h2.10M250.80 202.23v3.00M249.75 203.73h2.10M251.35 202.27v3.00M250.30 203.77h2.10M251.90 202.31v3.00M250.85 203.81h2.10M252.45 202.35v3.00M251.40 203.85h2.10M253.00 202.39v3.00M251.95 203.89h2.10M253.55 202.76v3.00M252.50 204.26h2.10M254.10 203.32v3.00M253.05 204.82h2.10M254.65 203.89v3.00M253.60 205.39h2.10M255.20 204.45v3.00M254.15 205.95h2.10M255.75 205.02v3.00M254.70 206.52h2.10M256.30 205.58v3.00M255.25 207.08h2.10M257.50 206.80v3.00M256.45 208.30h2.10M260.50 209.74v3.00M259.45 211.24h2.10M261.70 210.17v3.00M260.65 211.67h2.10M263.60 210.85v3.00M262.55 212.35h2.10M265.50 211.53v3.00M264.45 213.03h2.10M267.40 212.60v3.00M266.35 214.10h2.10M268.40 213.18v3.00M267.35 214.68h2.10M269.60 213.89v3.00M268.55 215.39h2.10M271.50 215.32v3.00M270.45 216.82h2.10M273.40 216.92v3.00M272.35 218.42h2.10M275.80 220.00v3.00M274.75 221.50h2.10M277.30 221.57v3.00M276.25 223.07h2.10M278.50 221.72v3.00M277.45 223.22h2.10M280.40 221.98v3.00M279.35 223.48h2.10M282.80 222.88v3.00M281.75 224.38h2.10M284.30 224.34v3.00M283.25 225.84h2.10M287.30 226.96v3.00M286.25 228.46h2.10M289.20 228.32v3.00M288.15 229.82h2.10M290.70 229.40v3.00M289.65 230.90h2.10M293.70 231.84v3.00M292.65 233.34h2.10M295.60 233.21v3.00M294.55 234.71h2.10M296.80 234.07v3.00M295.75 235.57h2.10M298.00 234.93v3.00M296.95 236.43h2.10M299.00 236.75v3.00M297.95 238.25h2.10M302.00 243.10v3.00M300.95 244.60h2.10M303.50 243.10v3.00M302.45 244.60h2.10M310.50 248.50v3.00M309.45 250.00h2.10M314.60 254.60v3.00M313.55 256.10h2.10M326.90 254.60v3.00M325.85 256.10h2.10M337.10 254.60v3.00M336.05 256.10h2.10M346.40 254.60v3.00M345.35 256.10h2.10M359.60 254.60v3.00M358.55 256.10h2.10M374.30 254.60v3.00M373.25 256.10h2.10M381.00 254.60v3.00M379.95 256.10h2.10" stroke="#ef4423" stroke-width="0.5" fill="none"/>
<text x="644.70" y="23.70">Expression</text><path d="M646.00 30.30h14.4" stroke="#ee3124" stroke-width="2.8"/><text x="664.30" y="33.50">High</text><path d="M646.00 40.30h14.4" stroke="#000" stroke-width="2.8"/><text x="664.30" y="43.00">Low</text>
<text x="428.20" y="200.90">Expression</text><path d="M427.80 208.70h14.4" stroke="#ee3124" stroke-width="2.8"/><text x="446.20" y="211.70">High</text><path d="M427.80 218.30h14.4" stroke="#000" stroke-width="2.8"/><text x="446.20" y="221.20">Low</text>
</svg>
</body></html>
